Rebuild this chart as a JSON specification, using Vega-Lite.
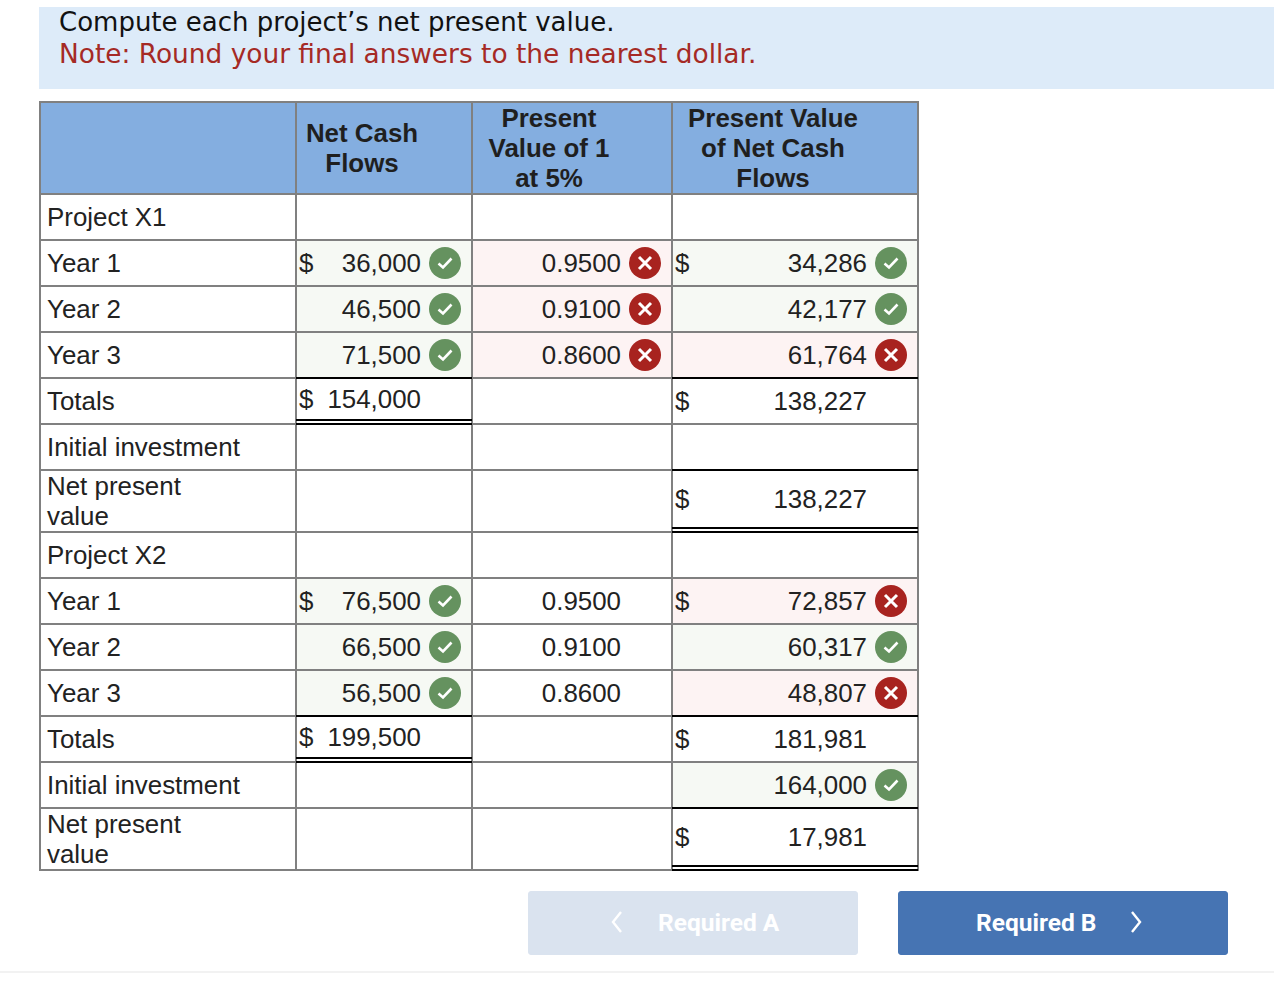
{"$schema":"https://vega.github.io/schema/vega-lite/v6.json","width":1274,"height":982,"autosize":{"type":"fit","contains":"padding"},"padding":0,"background":"#ffffff","config":{"view":{"stroke":null},"axis":{"disable":true}},
"datasets":{
"chrome":[{"item":"banner","left":1,"right":6,"top":0,"bottom":1},{"item":"required-a","left":2,"right":3,"top":2,"bottom":3},{"item":"required-b","left":4,"right":5,"top":2,"bottom":3},{"item":"divider","left":0,"right":6,"top":4,"bottom":5}],
"notes":[{"slot":0,"line":0,"text":"Compute each project’s net present value.","kind":"title"},{"slot":0,"line":1,"text":"Note: Round your final answers to the nearest dollar.","kind":"note"}],
"buttons":[{"slot":0,"text":"Required A","kind":"disabled"},{"slot":1,"text":"Required B","kind":"active"}],
"rules":[{"edge":5,"col":1,"colEnd":2,"kind":"single"},{"edge":5,"col":3,"colEnd":4,"kind":"single"},{"edge":6,"col":1,"colEnd":2,"kind":"double"},{"edge":7,"col":3,"colEnd":4,"kind":"single"},{"edge":8,"col":3,"colEnd":4,"kind":"double"},{"edge":12,"col":1,"colEnd":2,"kind":"single"},{"edge":12,"col":3,"colEnd":4,"kind":"single"},{"edge":13,"col":1,"colEnd":2,"kind":"double"},{"edge":14,"col":3,"colEnd":4,"kind":"single"},{"edge":15,"col":3,"colEnd":4,"kind":"double"}],
"cells":[
{"row":0,"rowEnd":1,"col":0,"colEnd":1,"state":"header","text":""},
{"row":0,"rowEnd":1,"col":1,"colEnd":2,"state":"header","text":"Net Cash\nFlows","lines":2},
{"row":0,"rowEnd":1,"col":2,"colEnd":3,"state":"header","text":"Present\nValue of 1\nat 5%","lines":3},
{"row":0,"rowEnd":1,"col":3,"colEnd":4,"state":"header","text":"Present Value\nof Net Cash\nFlows","lines":3},
{"row":1,"rowEnd":2,"col":0,"colEnd":1,"state":"blank","text":"Project X1"},
{"row":1,"rowEnd":2,"col":1,"colEnd":2,"state":"blank","text":""},
{"row":1,"rowEnd":2,"col":2,"colEnd":3,"state":"blank","text":""},
{"row":1,"rowEnd":2,"col":3,"colEnd":4,"state":"blank","text":""},
{"row":2,"rowEnd":3,"col":0,"colEnd":1,"state":"blank","text":"Year 1"},
{"row":2,"rowEnd":3,"col":1,"colEnd":2,"state":"correct","text":"36,000","dollar":true},
{"row":2,"rowEnd":3,"col":2,"colEnd":3,"state":"wrong","text":"0.9500"},
{"row":2,"rowEnd":3,"col":3,"colEnd":4,"state":"correct","text":"34,286","dollar":true},
{"row":3,"rowEnd":4,"col":0,"colEnd":1,"state":"blank","text":"Year 2"},
{"row":3,"rowEnd":4,"col":1,"colEnd":2,"state":"correct","text":"46,500"},
{"row":3,"rowEnd":4,"col":2,"colEnd":3,"state":"wrong","text":"0.9100"},
{"row":3,"rowEnd":4,"col":3,"colEnd":4,"state":"correct","text":"42,177"},
{"row":4,"rowEnd":5,"col":0,"colEnd":1,"state":"blank","text":"Year 3"},
{"row":4,"rowEnd":5,"col":1,"colEnd":2,"state":"correct","text":"71,500"},
{"row":4,"rowEnd":5,"col":2,"colEnd":3,"state":"wrong","text":"0.8600"},
{"row":4,"rowEnd":5,"col":3,"colEnd":4,"state":"wrong","text":"61,764"},
{"row":5,"rowEnd":6,"col":0,"colEnd":1,"state":"blank","text":"Totals"},
{"row":5,"rowEnd":6,"col":1,"colEnd":2,"state":"blank","text":"154,000","dollar":true,"raised":true},
{"row":5,"rowEnd":6,"col":2,"colEnd":3,"state":"blank","text":""},
{"row":5,"rowEnd":6,"col":3,"colEnd":4,"state":"blank","text":"138,227","dollar":true},
{"row":6,"rowEnd":7,"col":0,"colEnd":1,"state":"blank","text":"Initial investment"},
{"row":6,"rowEnd":7,"col":1,"colEnd":2,"state":"blank","text":""},
{"row":6,"rowEnd":7,"col":2,"colEnd":3,"state":"blank","text":""},
{"row":6,"rowEnd":7,"col":3,"colEnd":4,"state":"blank","text":""},
{"row":7,"rowEnd":8,"col":0,"colEnd":1,"state":"blank","text":"Net present\nvalue"},
{"row":7,"rowEnd":8,"col":1,"colEnd":2,"state":"blank","text":""},
{"row":7,"rowEnd":8,"col":2,"colEnd":3,"state":"blank","text":""},
{"row":7,"rowEnd":8,"col":3,"colEnd":4,"state":"blank","text":"138,227","dollar":true},
{"row":8,"rowEnd":9,"col":0,"colEnd":1,"state":"blank","text":"Project X2"},
{"row":8,"rowEnd":9,"col":1,"colEnd":2,"state":"blank","text":""},
{"row":8,"rowEnd":9,"col":2,"colEnd":3,"state":"blank","text":""},
{"row":8,"rowEnd":9,"col":3,"colEnd":4,"state":"blank","text":""},
{"row":9,"rowEnd":10,"col":0,"colEnd":1,"state":"blank","text":"Year 1"},
{"row":9,"rowEnd":10,"col":1,"colEnd":2,"state":"correct","text":"76,500","dollar":true},
{"row":9,"rowEnd":10,"col":2,"colEnd":3,"state":"blank","text":"0.9500"},
{"row":9,"rowEnd":10,"col":3,"colEnd":4,"state":"wrong","text":"72,857","dollar":true},
{"row":10,"rowEnd":11,"col":0,"colEnd":1,"state":"blank","text":"Year 2"},
{"row":10,"rowEnd":11,"col":1,"colEnd":2,"state":"correct","text":"66,500"},
{"row":10,"rowEnd":11,"col":2,"colEnd":3,"state":"blank","text":"0.9100"},
{"row":10,"rowEnd":11,"col":3,"colEnd":4,"state":"correct","text":"60,317"},
{"row":11,"rowEnd":12,"col":0,"colEnd":1,"state":"blank","text":"Year 3"},
{"row":11,"rowEnd":12,"col":1,"colEnd":2,"state":"correct","text":"56,500"},
{"row":11,"rowEnd":12,"col":2,"colEnd":3,"state":"blank","text":"0.8600"},
{"row":11,"rowEnd":12,"col":3,"colEnd":4,"state":"wrong","text":"48,807"},
{"row":12,"rowEnd":13,"col":0,"colEnd":1,"state":"blank","text":"Totals"},
{"row":12,"rowEnd":13,"col":1,"colEnd":2,"state":"blank","text":"199,500","dollar":true,"raised":true},
{"row":12,"rowEnd":13,"col":2,"colEnd":3,"state":"blank","text":""},
{"row":12,"rowEnd":13,"col":3,"colEnd":4,"state":"blank","text":"181,981","dollar":true},
{"row":13,"rowEnd":14,"col":0,"colEnd":1,"state":"blank","text":"Initial investment"},
{"row":13,"rowEnd":14,"col":1,"colEnd":2,"state":"blank","text":""},
{"row":13,"rowEnd":14,"col":2,"colEnd":3,"state":"blank","text":""},
{"row":13,"rowEnd":14,"col":3,"colEnd":4,"state":"correct","text":"164,000"},
{"row":14,"rowEnd":15,"col":0,"colEnd":1,"state":"blank","text":"Net present\nvalue"},
{"row":14,"rowEnd":15,"col":1,"colEnd":2,"state":"blank","text":""},
{"row":14,"rowEnd":15,"col":2,"colEnd":3,"state":"blank","text":""},
{"row":14,"rowEnd":15,"col":3,"colEnd":4,"state":"blank","text":"17,981","dollar":true}
]},
"data":{"name":"cells"},
"resolve":{"scale":{"x":"independent","y":"independent","color":"independent"}},
"layer":[
{"data":{"name":"chrome"},"transform":[{"filter":"datum.item=='banner' || datum.item=='divider'"}],"mark":{"type":"rect"},"encoding":{
"x":{"field":"left","type":"quantitative","axis":null,"scale":{"domain":[0,1,2,3,4,5,6],"range":[0,39,528,858,898,1228,1274],"zero":false,"nice":false}},
"x2":{"field":"right"},
"y":{"field":"top","type":"quantitative","axis":null,"scale":{"domain":[0,1,2,3,4,5],"range":[7,89,891,955,971,973],"zero":false,"nice":false}},
"y2":{"field":"bottom"},
"color":{"field":"item","type":"nominal","legend":null,"scale":{"domain":["banner","divider"],"range":["#ddebf9","#f2f2f2"]}}}},
{"data":{"name":"chrome"},"transform":[{"filter":"datum.item=='required-a' || datum.item=='required-b'"}],"mark":{"type":"rect","cornerRadius":3},"encoding":{
"x":{"field":"left","type":"quantitative","axis":null,"scale":{"domain":[0,1,2,3,4,5,6],"range":[0,39,528,858,898,1228,1274],"zero":false,"nice":false}},
"x2":{"field":"right"},
"y":{"field":"top","type":"quantitative","axis":null,"scale":{"domain":[0,1,2,3,4,5],"range":[7,89,891,955,971,973],"zero":false,"nice":false}},
"y2":{"field":"bottom"},
"color":{"field":"item","type":"nominal","legend":null,"scale":{"domain":["required-a","required-b"],"range":["#dae3ef","#4674b3"]}}}},
{"data":{"name":"notes"},"transform":[{"filter":"datum.kind=='title'"}],"mark":{"type":"text","align":"left","baseline":"middle","font":"DejaVu Sans","fontSize":26,"color":"#111111"},"encoding":{
"x":{"field":"slot","type":"quantitative","axis":null,"scale":{"domain":[0,1],"range":[59,100],"zero":false,"nice":false}},
"y":{"field":"line","type":"quantitative","axis":null,"scale":{"domain":[0,1],"range":[23,55],"zero":false,"nice":false}},
"text":{"field":"text"}}},
{"data":{"name":"notes"},"transform":[{"filter":"datum.kind=='note'"}],"mark":{"type":"text","align":"left","baseline":"middle","font":"DejaVu Sans","fontSize":26.4,"color":"#a52a25"},"encoding":{
"x":{"field":"slot","type":"quantitative","axis":null,"scale":{"domain":[0,1],"range":[59,100],"zero":false,"nice":false}},
"y":{"field":"line","type":"quantitative","axis":null,"scale":{"domain":[0,1],"range":[23,55],"zero":false,"nice":false}},
"text":{"field":"text"}}},
{"mark":{"type":"rect","stroke":"#808080","strokeWidth":2},"encoding":{
"x":{"field":"col","type":"quantitative","axis":null,"scale":{"domain":[0,1,2,3,4],"range":[40,296,472,672,918],"zero":false,"nice":false}},
"x2":{"field":"colEnd"},
"y":{"field":"row","type":"quantitative","axis":null,"scale":{"domain":[0,1,2,3,4,5,6,7,8,9,10,11,12,13,14,15],"range":[102,194,240,286,332,378,424,470,532,578,624,670,716,762,808,870],"zero":false,"nice":false}},
"y2":{"field":"rowEnd"},
"color":{"field":"state","type":"nominal","legend":null,"scale":{"domain":["header","blank","correct","wrong"],"range":["#84aee0","#ffffff","#f6f9f4","#fdf3f3"]}}}},
{"data":{"name":"rules"},"mark":{"type":"rule","color":"#000000","strokeWidth":2},"encoding":{
"x":{"field":"col","type":"quantitative","axis":null,"scale":{"domain":[0,1,2,3,4],"range":[40,296,472,672,918],"zero":false,"nice":false}},
"x2":{"field":"colEnd"},
"y":{"field":"edge","type":"quantitative","axis":null,"scale":{"domain":[0,1,2,3,4,5,6,7,8,9,10,11,12,13,14,15],"range":[102,194,240,286,332,378,424,470,532,578,624,670,716,762,808,870],"zero":false,"nice":false}}}},
{"data":{"name":"rules"},"transform":[{"filter":"datum.kind=='double'"}],"mark":{"type":"rule","color":"#000000","strokeWidth":2,"yOffset":-4},"encoding":{
"x":{"field":"col","type":"quantitative","axis":null,"scale":{"domain":[0,1,2,3,4],"range":[40,296,472,672,918],"zero":false,"nice":false}},
"x2":{"field":"colEnd"},
"y":{"field":"edge","type":"quantitative","axis":null,"scale":{"domain":[0,1,2,3,4,5,6,7,8,9,10,11,12,13,14,15],"range":[102,194,240,286,332,378,424,470,532,578,624,670,716,762,808,870],"zero":false,"nice":false}}}},
{"transform":[{"filter":"datum.row==0 && datum.col>0"}],"mark":{"type":"text","align":"center","baseline":"middle","font":"Liberation Sans","fontWeight":"bold","fontSize":25.9,"lineHeight":30,"lineBreak":"\n","color":"#1f1f1f"},"encoding":{
"x":{"field":"col","type":"quantitative","axis":null,"scale":{"domain":[1,2,3],"range":[362,549,773],"zero":false,"nice":false}},
"y":{"field":"lines","type":"quantitative","axis":null,"scale":{"domain":[2,3],"range":[134,119],"zero":false,"nice":false}},
"text":{"field":"text"}}},
{"transform":[{"filter":"datum.row>0 && datum.col==0"}],"mark":{"type":"text","align":"left","baseline":"middle","dx":7,"font":"Liberation Sans","fontSize":25.9,"lineHeight":30,"lineBreak":"\n","color":"#222222"},"encoding":{
"x":{"field":"col","type":"quantitative","axis":null,"scale":{"domain":[0,1],"range":[40,296],"zero":false,"nice":false}},
"y":{"field":"row","type":"quantitative","axis":null,"scale":{"domain":[0,1,2,3,4,5,6,7,8,9,10,11,12,13,14],"range":[149,218,264,310,356,402,448,487,556,602,648,694,740,786,825],"zero":false,"nice":false}},
"text":{"field":"text"}}},
{"transform":[{"filter":"datum.row>0 && datum.col>0 && datum.text!='' && !datum.raised"}],"mark":{"type":"text","align":"right","baseline":"middle","dx":-51,"font":"Liberation Sans","fontSize":25.9,"color":"#222222"},"encoding":{
"x":{"field":"colEnd","type":"quantitative","axis":null,"scale":{"domain":[2,3,4],"range":[472,672,918],"zero":false,"nice":false}},
"y":{"field":"row","type":"quantitative","axis":null,"scale":{"domain":[0,1,2,3,4,5,6,7,8,9,10,11,12,13,14],"range":[149,218,264,310,356,402,448,500,556,602,648,694,740,786,838],"zero":false,"nice":false}},
"text":{"field":"text"}}},
{"transform":[{"filter":"datum.raised"}],"mark":{"type":"text","align":"right","baseline":"middle","dx":-51,"dy":-2,"font":"Liberation Sans","fontSize":25.9,"color":"#222222"},"encoding":{
"x":{"field":"colEnd","type":"quantitative","axis":null,"scale":{"domain":[2,3,4],"range":[472,672,918],"zero":false,"nice":false}},
"y":{"field":"row","type":"quantitative","axis":null,"scale":{"domain":[0,1,2,3,4,5,6,7,8,9,10,11,12,13,14],"range":[149,218,264,310,356,402,448,500,556,602,648,694,740,786,838],"zero":false,"nice":false}},
"text":{"field":"text"}}},
{"transform":[{"filter":"datum.dollar && !datum.raised"}],"mark":{"type":"text","align":"left","baseline":"middle","dx":3,"font":"Liberation Sans","fontSize":25.9,"color":"#222222","text":"$"},"encoding":{
"x":{"field":"col","type":"quantitative","axis":null,"scale":{"domain":[1,2,3],"range":[296,472,672],"zero":false,"nice":false}},
"y":{"field":"row","type":"quantitative","axis":null,"scale":{"domain":[0,1,2,3,4,5,6,7,8,9,10,11,12,13,14],"range":[149,218,264,310,356,402,448,500,556,602,648,694,740,786,838],"zero":false,"nice":false}}}},
{"transform":[{"filter":"datum.raised"}],"mark":{"type":"text","align":"left","baseline":"middle","dx":3,"dy":-2,"font":"Liberation Sans","fontSize":25.9,"color":"#222222","text":"$"},"encoding":{
"x":{"field":"col","type":"quantitative","axis":null,"scale":{"domain":[1,2,3],"range":[296,472,672],"zero":false,"nice":false}},
"y":{"field":"row","type":"quantitative","axis":null,"scale":{"domain":[0,1,2,3,4,5,6,7,8,9,10,11,12,13,14],"range":[149,218,264,310,356,402,448,500,556,602,648,694,740,786,838],"zero":false,"nice":false}}}},
{"transform":[{"filter":"datum.state=='correct' || datum.state=='wrong'"}],"mark":{"type":"point","shape":"circle","filled":true,"opacity":1,"size":1024,"xOffset":-27},"encoding":{
"x":{"field":"colEnd","type":"quantitative","axis":null,"scale":{"domain":[2,3,4],"range":[472,672,918],"zero":false,"nice":false}},
"y":{"field":"row","type":"quantitative","axis":null,"scale":{"domain":[0,1,2,3,4,5,6,7,8,9,10,11,12,13,14],"range":[148,217,263,309,355,401,447,499,555,601,647,693,739,785,837],"zero":false,"nice":false}},
"color":{"field":"state","type":"nominal","legend":null,"scale":{"domain":["correct","wrong"],"range":["#65925f","#a8231f"]}}}},
{"transform":[{"filter":"datum.state=='correct'"}],"mark":{"type":"point","shape":"M-0.65,0.05L-0.2,0.45L0.65,-0.45","filled":false,"opacity":1,"size":400,"stroke":"#ffffff","strokeWidth":2.6,"xOffset":-27},"encoding":{
"x":{"field":"colEnd","type":"quantitative","axis":null,"scale":{"domain":[2,3,4],"range":[472,672,918],"zero":false,"nice":false}},
"y":{"field":"row","type":"quantitative","axis":null,"scale":{"domain":[0,1,2,3,4,5,6,7,8,9,10,11,12,13,14],"range":[148,217,263,309,355,401,447,499,555,601,647,693,739,785,837],"zero":false,"nice":false}}}},
{"transform":[{"filter":"datum.state=='wrong'"}],"mark":{"type":"point","shape":"M-0.6,-0.6L0.6,0.6M-0.6,0.6L0.6,-0.6","filled":false,"opacity":1,"size":400,"stroke":"#ffffff","strokeWidth":3,"xOffset":-27},"encoding":{
"x":{"field":"colEnd","type":"quantitative","axis":null,"scale":{"domain":[2,3,4],"range":[472,672,918],"zero":false,"nice":false}},
"y":{"field":"row","type":"quantitative","axis":null,"scale":{"domain":[0,1,2,3,4,5,6,7,8,9,10,11,12,13,14],"range":[148,217,263,309,355,401,447,499,555,601,647,693,739,785,837],"zero":false,"nice":false}}}},
{"data":{"name":"buttons"},"mark":{"type":"text","align":"left","baseline":"middle","font":"Roboto","fontWeight":"bold","fontSize":24.5,"color":"#ffffff"},"encoding":{
"x":{"field":"slot","type":"quantitative","axis":null,"scale":{"domain":[0,1],"range":[658,976],"zero":false,"nice":false}},
"y":{"value":924},
"text":{"field":"text"}}},
{"data":{"name":"buttons"},"transform":[{"filter":"datum.slot==0"}],"mark":{"type":"point","shape":"M0.4,-1L-0.4,0L0.4,1","filled":false,"opacity":1,"size":400,"stroke":"#ffffff","strokeWidth":2.4},"encoding":{
"x":{"field":"slot","type":"quantitative","axis":null,"scale":{"domain":[0,1],"range":[617,1136],"zero":false,"nice":false}},
"y":{"value":922}}},
{"data":{"name":"buttons"},"transform":[{"filter":"datum.slot==1"}],"mark":{"type":"point","shape":"M-0.4,-1L0.4,0L-0.4,1","filled":false,"opacity":1,"size":400,"stroke":"#ffffff","strokeWidth":2.4},"encoding":{
"x":{"field":"slot","type":"quantitative","axis":null,"scale":{"domain":[0,1],"range":[617,1136],"zero":false,"nice":false}},
"y":{"value":922}}}
]}
